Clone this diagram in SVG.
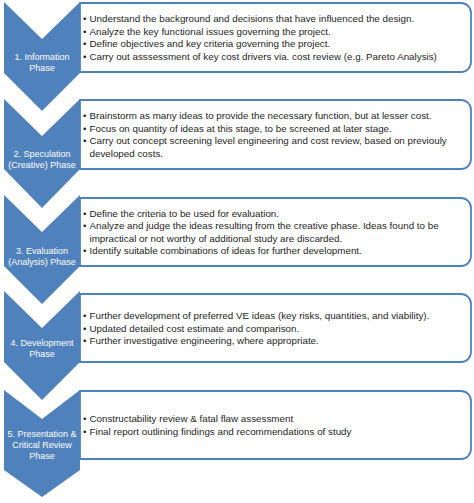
<svg xmlns="http://www.w3.org/2000/svg" width="474" height="503" viewBox="0 0 474 503">
<style>
.box{fill:#fff;stroke:#4f81bd;stroke-width:1.8}
.chev{fill:#4f81bd}
.ct{font-family:"Liberation Sans",Arial,sans-serif;font-size:9px;fill:#fff;text-anchor:middle}
.bt{font-family:"Liberation Sans",Arial,sans-serif;font-size:9.8px;fill:#1e1e1e}
</style>
<rect width="474" height="503" fill="#fff"/>
<g id="connectors"></g>
<g id="phase1">
<path class="box" d="M80,3 H461 A10,10 0 0 1 471,13 V62 A10,10 0 0 1 461,72 H80 Z"/>
<polygon class="chev" points="4,2 42,39 80,2 80,73 42,111 4,73"/>
<text class="ct"><tspan x="42" y="59.5">1. Information</tspan><tspan x="42" y="70.5">Phase</tspan></text>
<text class="bt"><tspan x="83" y="22.3">•</tspan><tspan x="89.5" y="22.3">Understand the background and decisions that have influenced the design.</tspan></text>
<text class="bt"><tspan x="83" y="34.8">•</tspan><tspan x="89.5" y="34.8">Analyze the key functional issues governing the project.</tspan></text>
<text class="bt"><tspan x="83" y="47.3">•</tspan><tspan x="89.5" y="47.3">Define objectives and key criteria governing the project.</tspan></text>
<text class="bt"><tspan x="83" y="59.8">•</tspan><tspan x="89.5" y="59.8">Carry out asssessment of key cost drivers via. cost review (e.g. Pareto Analysis)</tspan></text>
</g>
<g id="phase2">
<path class="box" d="M80,100 H461 A10,10 0 0 1 471,110 V159 A10,10 0 0 1 461,169 H80 Z"/>
<polygon class="chev" points="4,99 42,136 80,99 80,169 42,208 4,169"/>
<text class="ct"><tspan x="42" y="156.5">2. Speculation</tspan><tspan x="42" y="167.5">(Creative) Phase</tspan></text>
<text class="bt"><tspan x="83" y="119.3">•</tspan><tspan x="89.5" y="119.3">Brainstorm as many ideas to provide the necessary function, but at lesser cost.</tspan></text>
<text class="bt"><tspan x="83" y="131.8">•</tspan><tspan x="89.5" y="131.8">Focus on quantity of ideas at this stage, to be screened at later stage.</tspan></text>
<text class="bt"><tspan x="83" y="144.3">•</tspan><tspan x="89.5" y="144.3">Carry out concept screening level engineering and cost review, based on previouly</tspan><tspan x="89.5" y="156.8">developed costs.</tspan></text>
</g>
<g id="phase3">
<path class="box" d="M80,198 H461 A10,10 0 0 1 471,208 V256 A10,10 0 0 1 461,266 H80 Z"/>
<polygon class="chev" points="4,195 42,232 80,195 80,266 42,304 4,266"/>
<text class="ct"><tspan x="42" y="253.5">3. Evaluation</tspan><tspan x="42" y="264.5">(Analysis) Phase</tspan></text>
<text class="bt"><tspan x="83" y="216.8">•</tspan><tspan x="89.5" y="216.8">Define the criteria to be used for evaluation.</tspan></text>
<text class="bt"><tspan x="83" y="229.3">•</tspan><tspan x="89.5" y="229.3">Analyze and judge the ideas resulting from the creative phase. Ideas found to be</tspan><tspan x="89.5" y="241.8">impractical or not worthy of additional study are discarded.</tspan></text>
<text class="bt"><tspan x="83" y="254.3">•</tspan><tspan x="89.5" y="254.3">Identify suitable combinations of ideas for further development.</tspan></text>
</g>
<g id="phase4">
<path class="box" d="M80,294 H461 A10,10 0 0 1 471,304 V352 A10,10 0 0 1 461,362 H80 Z"/>
<polygon class="chev" points="4,291 42,328 80,291 80,362 42,400 4,362"/>
<text class="ct"><tspan x="42" y="346">4. Development</tspan><tspan x="42" y="357">Phase</tspan></text>
<text class="bt"><tspan x="83" y="319">•</tspan><tspan x="89.5" y="319">Further development of preferred VE ideas (key risks, quantities, and viability).</tspan></text>
<text class="bt"><tspan x="83" y="331.5">•</tspan><tspan x="89.5" y="331.5">Updated detailed cost estimate and comparison.</tspan></text>
<text class="bt"><tspan x="83" y="344">•</tspan><tspan x="89.5" y="344">Further investigative engineering, where appropriate.</tspan></text>
</g>
<g id="phase5">
<path class="box" d="M80,391 H461 A10,10 0 0 1 471,401 V449 A10,10 0 0 1 461,459 H80 Z"/>
<polygon class="chev" points="4,390 42,419 80,390 80,470 42,497 4,470"/>
<text class="ct"><tspan x="42" y="437">5. Presentation &amp;</tspan><tspan x="42" y="448">Critical Review</tspan><tspan x="42" y="459">Phase</tspan></text>
<text class="bt"><tspan x="83" y="422.3">•</tspan><tspan x="89.5" y="422.3">Constructability review &amp; fatal flaw assessment</tspan></text>
<text class="bt"><tspan x="83" y="434.8">•</tspan><tspan x="89.5" y="434.8">Final report outlining findings and recommendations of study</tspan></text>
</g>
</svg>
